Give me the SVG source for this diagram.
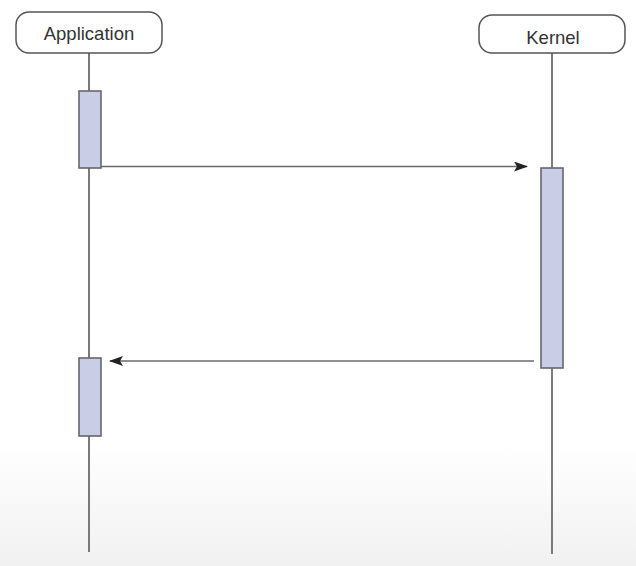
<svg xmlns="http://www.w3.org/2000/svg" width="636" height="566" viewBox="0 0 636 566">
<style>
.head{fill:#ffffff;stroke:#555555;stroke-width:1.5}
.label{font-family:"Liberation Sans",Arial,sans-serif;font-size:18.5px;fill:#333333;text-anchor:middle;dominant-baseline:central}
.life{stroke:#7a7a7a;stroke-width:2;fill:none}
.act{fill:#c9cee6;stroke:#666670;stroke-width:1.6}
.msg{stroke:#6a6a6a;stroke-width:1.6;fill:none;marker-end:url(#arr)}
</style>
<defs>
<linearGradient id="bg" x1="0" y1="0" x2="0" y2="1">
<stop offset="0" stop-color="#ffffff"/>
<stop offset="0.78" stop-color="#ffffff"/>
<stop offset="1" stop-color="#f1f1f1"/>
</linearGradient>
<marker id="arr" viewBox="0 0 14 10" refX="13" refY="5" markerWidth="14" markerHeight="10" markerUnits="userSpaceOnUse" orient="auto">
<path d="M0,0 L14,5 L0,10 L3,5 Z" fill="#222222"/>
</marker>
</defs>
<rect x="0" y="0" width="636" height="566" fill="url(#bg)"/>
<g id="connectors">
<line class="msg" x1="101" y1="166.5" x2="527" y2="166.5"/>
<line class="msg" x1="534" y1="361" x2="110" y2="361"/>
</g>
<g id="application">
<line class="life" x1="89" y1="53" x2="89" y2="552"/>
<rect class="head" x="16" y="12" width="146" height="41" rx="13" ry="13"/>
<text class="label" x="89" y="33">Application</text>
<rect class="act" x="79" y="91" width="22" height="77"/>
<rect class="act" x="79" y="358" width="22" height="78"/>
</g>
<g id="kernel">
<line class="life" x1="552" y1="53" x2="552" y2="554"/>
<rect class="head" x="479" y="15" width="146" height="38" rx="13" ry="13"/>
<text class="label" x="553" y="37">Kernel</text>
<rect class="act" x="541" y="168" width="22" height="200"/>
</g>
</svg>
